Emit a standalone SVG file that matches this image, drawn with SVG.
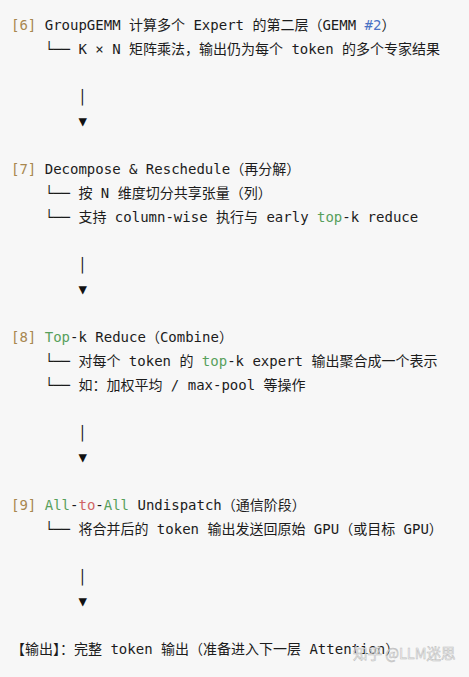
<svg xmlns="http://www.w3.org/2000/svg" width="469" height="677" viewBox="0 0 469 677">
<style>
text{font-family:"DejaVu Sans Mono","Noto Sans CJK SC",monospace;font-size:14px;fill:#1c1c1c;white-space:pre}
.num{fill:#a8874f}
.g{fill:#57a05c}
.r{fill:#d06464}
.b{fill:#4a72c4}
.conn{fill:#111111}
.wm{font-family:"Noto Sans CJK SC","Noto Sans",sans-serif;font-size:14.5px;fill:#ffffff;stroke:#b9b9b9;stroke-width:0.6;opacity:0.9}
</style>
<rect width="469" height="677" fill="#f7f7f7"/>
<g id="step6">
<text x="11" y="30" xml:space="preserve"><tspan class="num">[6]</tspan> GroupGEMM 计算多个 Expert 的第二层（GEMM <tspan class="b">#2</tspan>）</text>
<text x="11" y="54" xml:space="preserve">    └── K × N 矩阵乘法，输出仍为每个 token 的多个专家结果</text>
</g>
<g id="step7">
<text x="11" y="174" xml:space="preserve"><tspan class="num">[7]</tspan> Decompose &amp; Reschedule（再分解）</text>
<text x="11" y="198" xml:space="preserve">    └── 按 N 维度切分共享张量（列）</text>
<text x="11" y="222" xml:space="preserve">    └── 支持 column-wise 执行与 early <tspan class="g">top</tspan>-k reduce</text>
</g>
<g id="step8">
<text x="11" y="342" xml:space="preserve"><tspan class="num">[8]</tspan> <tspan class="g">Top</tspan>-k Reduce（Combine）</text>
<text x="11" y="366" xml:space="preserve">    └── 对每个 token 的 <tspan class="g">top</tspan>-k expert 输出聚合成一个表示</text>
<text x="11" y="390" xml:space="preserve">    └── 如：加权平均 / max-pool 等操作</text>
</g>
<g id="step9">
<text x="11" y="510" xml:space="preserve"><tspan class="num">[9]</tspan> <tspan class="g">All</tspan>-<tspan class="r">to</tspan>-<tspan class="g">All</tspan> Undispatch（通信阶段）</text>
<text x="11" y="534" xml:space="preserve">    └── 将合并后的 token 输出发送回原始 GPU（或目标 GPU）</text>
</g>
<g id="output">
<text x="11" y="654" xml:space="preserve">【输出】：完整 token 输出（准备进入下一层 Attention）</text>
</g>
<g id="connectors">
<text class="conn" x="78" y="102">│</text>
<text class="conn" x="78.5" y="126">▼</text>
<text class="conn" x="78" y="270">│</text>
<text class="conn" x="78.5" y="294">▼</text>
<text class="conn" x="78" y="438">│</text>
<text class="conn" x="78.5" y="462">▼</text>
<text class="conn" x="78" y="582">│</text>
<text class="conn" x="78.5" y="606">▼</text>
</g>
<text class="wm" x="353" y="659">知乎 @LLM迷思</text>
</svg>
